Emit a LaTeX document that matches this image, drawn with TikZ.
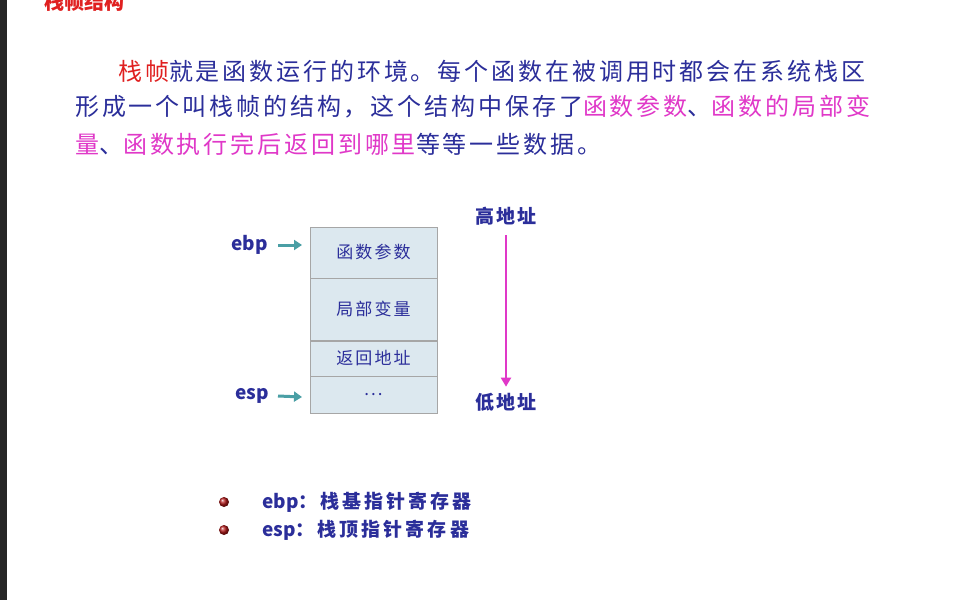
\documentclass[tikz,border=0pt]{standalone}
\usepackage{fontspec}
\setmainfont{Noto Sans CJK SC}
\newfontfamily\cjk{Noto Sans CJK SC}
\newfontfamily\spc[LetterSpace=12]{Noto Sans CJK SC}
\newfontfamily\spl[LetterSpace=16]{Noto Sans CJK SC}
\usetikzlibrary{arrows.meta}
\definecolor{navy}{HTML}{2B2E9A}
\definecolor{mag}{HTML}{E038C8}
\definecolor{rd}{HTML}{E02020}
\definecolor{boxfill}{HTML}{DCE8EF}
\definecolor{teal2}{HTML}{4A9FA5}
\tikzset{
 cell/.style={draw=gray!70,fill=boxfill,minimum width=127pt,inner sep=0pt,text=navy,font=\spc\fontsize{17}{17}\selectfont},
 para/.style={anchor=west,inner sep=0pt,text=navy,font=\spc\fontsize{24}{24}\selectfont},
 lab/.style={inner sep=0pt,text=navy,font=\spc\fontsize{19}{19}\selectfont\bfseries},
 bul/.style={anchor=west,inner sep=0pt,text=navy,font=\spl\fontsize{19}{19}\selectfont\bfseries},
 ptr/.style={-{Triangle[length=8pt,width=10pt]},line width=3pt,teal2},
}
\begin{document}
\begin{tikzpicture}[x=1pt,y=-1pt]
\useasboundingbox (0,0) rectangle (960,600);
\fill[white] (0,0) rectangle (960,600);
\fill[black!85] (0,0) rectangle (7,600);
\node[anchor=west,inner sep=0pt,text=rd,font=\fontsize{20}{20}\selectfont\bfseries] (title) at (44,2) {栈帧结构};
\node[para] (l1) at (118,71) {\textcolor{rd}{栈帧}就是函数运行的环境。每个函数在被调用时都会在系统栈区};
\node[para] (l2) at (75,107) {形成一个叫栈帧的结构，这个结构中保存了\textcolor{mag}{函数参数}、\textcolor{mag}{函数的局部变}};
\node[para] (l3) at (75,144) {\textcolor{mag}{量}、\textcolor{mag}{函数执行完后返回到哪里}等等一些数据。};
\node[cell,minimum height=51pt] (c1) at (373.5,252.5) {函数参数};
\node[cell,minimum height=62pt,anchor=north] (c2) at (c1.south) {局部变量};
\node[cell,minimum height=35pt,anchor=north] (c3) at (c2.south) {返回地址};
\node[cell,minimum height=37pt,anchor=north] (c4) at (c3.south) {...};
\node[lab,anchor=east,font=\cjk\fontsize{19}{19}\selectfont\bfseries] (ebp) at (268,245) {ebp};
\node[lab,anchor=east,font=\cjk\fontsize{19}{19}\selectfont\bfseries] (esp) at (269,396) {esp};
\coordinate (e1) at (302,245);
\coordinate (s1) at (302,397);
\draw[ptr] ([xshift=10pt]ebp.east) -- (e1);
\draw[ptr] ([xshift=9pt]esp.east) -- (s1);
\node[lab] (hi) at (506,216) {高地址};
\node[lab] (lo) at (506,402) {低地址};
\draw[-{Triangle[length=9pt,width=10pt]},line width=2pt,mag] ([yshift=-10pt]hi.south) -- ([yshift=6pt]lo.north);
\shade[ball color=rd!80!black] (224,502) circle (5pt);
\shade[ball color=rd!80!black] (224,530) circle (5pt);
\node[bul] (b1) at (262,502) {{\cjk ebp}：栈基指针寄存器};
\node[bul] (b2) at (262,530) {{\cjk esp}：栈顶指针寄存器};
\end{tikzpicture}
\end{document}
